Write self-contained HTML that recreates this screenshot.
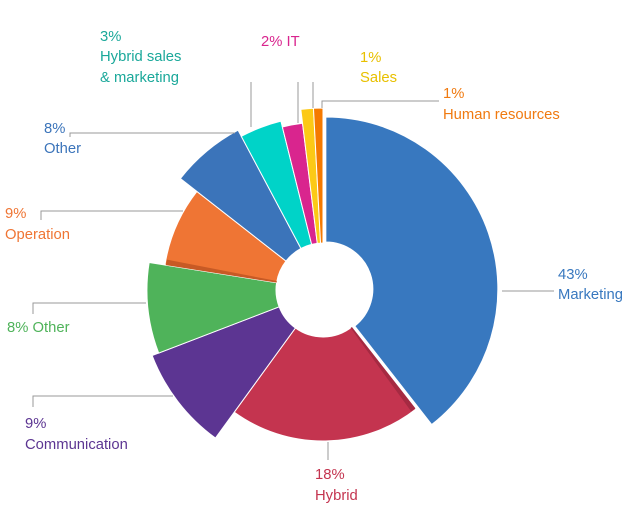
<!DOCTYPE html>
<html><head><meta charset="utf-8">
<style>
html,body{margin:0;padding:0;background:#fff;}
svg{display:block}
text{font-family:"Liberation Sans",sans-serif;font-size:14.8px;}
</style></head>
<body>
<svg id="s" width="629" height="522" viewBox="0 0 629 522" xmlns="http://www.w3.org/2000/svg">
<g id="sl"></g>
<g stroke="#999" stroke-width="1" fill="none">
<polyline points="251,82 251,127"/>
<polyline points="298,82 298,123"/>
<polyline points="313,82 313,108"/>
<polyline points="439,101 322,101 322,108"/>
<polyline points="70,137 70,133 235,133"/>
<polyline points="41,220 41,211 183,211"/>
<polyline points="33,314 33,303 146,303"/>
<polyline points="33,407 33,396 173,396"/>
<polyline points="502,291 554,291"/>
<polyline points="328,442 328,460"/>
</g>
<g>
<text x="100" y="41" fill="#1aa89a">3%</text>
<text x="100" y="61" fill="#1aa89a">Hybrid sales</text>
<text x="100" y="82" fill="#1aa89a">&amp; marketing</text>
<text x="261" y="46" fill="#d9258e">2% IT</text>
<text x="360" y="62" fill="#e8c000">1%</text>
<text x="360" y="82" fill="#e8c000">Sales</text>
<text x="443" y="98" fill="#f07a10">1%</text>
<text x="443" y="119" fill="#f07a10">Human resources</text>
<text x="44" y="133" fill="#3b74ba">8%</text>
<text x="44" y="153" fill="#3b74ba">Other</text>
<text x="5" y="218" fill="#ef7534">9%</text>
<text x="5" y="239" fill="#ef7534">Operation</text>
<text x="7" y="332" fill="#4fb35a">8% Other</text>
<text x="25" y="428" fill="#5c3592">9%</text>
<text x="25" y="449" fill="#5c3592">Communication</text>
<text x="558" y="279" fill="#3878bf">43%</text>
<text x="558" y="299" fill="#3878bf">Marketing</text>
<text x="315" y="479" fill="#c4344f">18%</text>
<text x="315" y="500" fill="#c4344f">Hybrid</text>
</g>
</svg>
<script>
var cx=323,cy=290,ri=47;
var S=[
[0,142,172,3,'#3878bf',null],
[142,216,151,0,'#c4344f','#a52a42'],
[216,249,183,0,'#5c3592',null],
[249,279,176,0,'#4fb35a',null],
[279,308,160,0,'#ef7534','#c75a25'],
[308,332,181,0,'#3b74ba',null],
[332,346,174,0,'#00d3c8',null],
[346,353,168,0,'#d9258e',null],
[353,357,182,0,'#fcc916',null],
[357,360,182,0,'#f57a00',null]];
function pt(x,y,a,r){a=a*Math.PI/180;return [x+r*Math.sin(a),y-r*Math.cos(a)];}
function path(a0,a1,R,ox,oy){
 var x=cx+ox,y=cy+oy;
 var p1=pt(x,y,a0,R),p2=pt(x,y,a1,R),p3=pt(x,y,a1,ri),p4=pt(x,y,a0,ri);
 var lg=(a1-a0)>180?1:0;
 return 'M'+p1+' A'+R+','+R+' 0 '+lg+' 1 '+p2+' L'+p3+' A'+ri+','+ri+' 0 '+lg+' 0 '+p4+'Z';
}
var h='';
S.forEach(function(s){
 var m=(s[0]+s[1])/2,o=pt(0,0,m,s[3]);
 h+='<path d="'+path(s[0],s[1],s[2],o[0],o[1])+'" fill="'+s[4]+'" stroke="#fff" stroke-width="1"/>';
 if(s[5]){h+='<path d="'+path(s[0],s[0]+2,s[2]-1,o[0],o[1])+'" fill="'+s[5]+'"/>';}
});
document.getElementById('sl').innerHTML=h;
</script>
</body></html>
